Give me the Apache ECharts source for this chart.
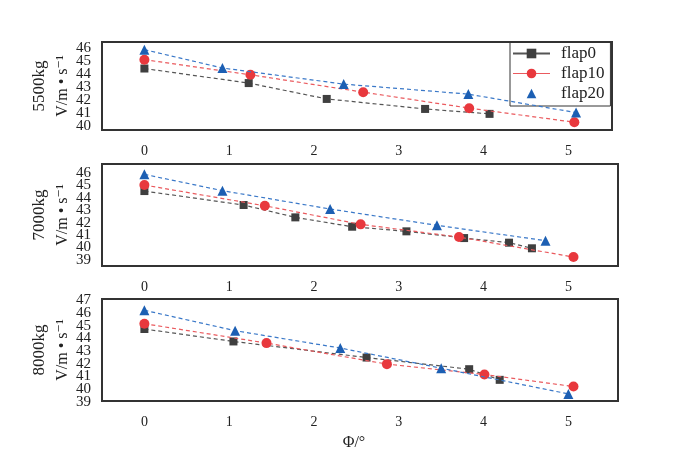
<!DOCTYPE html>
<html lang="en">
<head>
    <meta charset="UTF-8">
    <title>V - Phi</title>
    <script src="https://cdn.jsdelivr.net/npm/echarts@6.0.0/dist/echarts.min.js"></script>
</head>
<body style="margin:0;background:#fff">
<div id="container" style="width:685px;height:474px"></div>

<script type="text/javascript">
    // tick labels
    var xTicks = [0, 1, 2, 3, 4, 5];
    var yTicks1 = [40, 41, 42, 43, 44, 45, 46];
    var yTicks2 = [39, 40, 41, 42, 43, 44, 45, 46];
    var yTicks3 = [39, 40, 41, 42, 43, 44, 45, 46, 47];
    var panelNames = ['5500kg', '7000kg', '8000kg'];
    var seriesNames = ['flap0', 'flap10', 'flap20'];

    // 5500kg
    var p1Flap0 = [[0, 44.42], [1.23, 43.30], [2.15, 42.08], [3.31, 41.31], [4.07, 40.93]];
    var p1Flap10 = [[0, 45.10], [1.25, 43.94], [2.58, 42.60], [3.83, 41.37], [5.07, 40.29]];
    var p1Flap20 = [[0, 45.87], [0.92, 44.46], [2.35, 43.22], [3.82, 42.45], [5.09, 41.03]];
    // 7000kg
    var p2Flap0 = [[0, 44.53], [1.17, 43.41], [1.78, 42.42], [2.45, 41.67], [3.09, 41.30], [3.77, 40.76], [4.30, 40.39], [4.57, 39.94]];
    var p2Flap10 = [[0, 45.01], [1.42, 43.35], [2.55, 41.86], [3.71, 40.84], [5.06, 39.24]];
    var p2Flap20 = [[0, 45.87], [0.92, 44.56], [2.19, 43.09], [3.45, 41.78], [4.73, 40.55]];
    // 8000kg
    var p3Flap0 = [[0, 44.73], [1.05, 43.75], [2.62, 42.48], [3.83, 41.56], [4.19, 40.72]];
    var p3Flap10 = [[0, 45.15], [1.44, 43.62], [2.86, 41.96], [4.01, 41.14], [5.06, 40.19]];
    var p3Flap20 = [[0, 46.21], [1.07, 44.60], [2.31, 43.23], [3.50, 41.64], [5.00, 39.61]];

    var panels = [
        {data: [p1Flap0, p1Flap10, p1Flap20], yTicks: yTicks1, ymin: 39.69, ymax: 46.46, xmax: 5.514,
            grid: {left: 102, top: 42, width: 510, height: 88}},
        {data: [p2Flap0, p2Flap10, p2Flap20], yTicks: yTicks2, ymin: 38.52, ymax: 46.7, xmax: 5.585,
            grid: {left: 102, top: 164, width: 516, height: 102}},
        {data: [p3Flap0, p3Flap10, p3Flap20], yTicks: yTicks3, ymin: 39.05, ymax: 47.1, xmax: 5.585,
            grid: {left: 102, top: 299, width: 516, height: 102}}
    ];

    var colors = ['#3f3f3f', '#e8383d', '#1c5fb3'];
    var lineColors = ['#555555', '#ea5a5e', '#3a78c8'];
    var symbols = ['rect', 'circle', 'triangle'];
    var symbolSizes = [8, 10, 10];
    var fontFam = '"Liberation Serif", "DejaVu Serif", serif';

    var dom = document.getElementById('container');
    var myChart = echarts.init(dom, null, {renderer: 'canvas'});

    var grids = [], xAxes = [], yAxes = [], series = [], graphics = [];
    panels.forEach(function (p, i) {
        grids.push(Object.assign({show: true, borderColor: '#333', borderWidth: 2, backgroundColor: 'transparent'}, p.grid));
        xAxes.push({
            type: 'value', gridIndex: i, min: -0.5, max: p.xmax,
            axisLine: {show: false}, axisTick: {show: false}, splitLine: {show: false},
            axisLabel: {customValues: xTicks, margin: 14, color: '#222', fontFamily: fontFam, fontSize: 14}
        });
        // y labels are drawn below as text, since they overlap and echarts hides them
        yAxes.push({
            type: 'value', gridIndex: i, min: p.ymin, max: p.ymax,
            axisLine: {show: false}, axisTick: {show: false}, splitLine: {show: false},
            axisLabel: {show: false}
        });
        p.data.forEach(function (d, k) {
            series.push({
                name: seriesNames[k], type: 'line', xAxisIndex: i, yAxisIndex: i,
                data: d, symbol: symbols[k], symbolSize: symbolSizes[k],
                itemStyle: {color: colors[k]},
                lineStyle: {color: lineColors[k], width: 1.2, type: [4, 3]},
                z: 3 + k
            });
        });
        var cy = p.grid.top + p.grid.height / 2;
        graphics.push({
            type: 'text', x: 40, y: cy, rotation: Math.PI / 2,
            style: {text: panelNames[i], fill: '#222', font: '17px ' + fontFam, align: 'center', verticalAlign: 'middle'}
        });
        graphics.push({
            type: 'text', x: 63, y: cy, rotation: Math.PI / 2,
            style: {text: 'V/m • s⁻¹', fill: '#222', font: '16px ' + fontFam, align: 'center', verticalAlign: 'middle'}
        });
    });
    graphics.push({
        type: 'text', x: 354, y: 443,
        style: {text: 'Φ/°', fill: '#222', font: '16px ' + fontFam, align: 'center', verticalAlign: 'middle'}
    });

    var option = {
        backgroundColor: '#fff',
        animation: false,
        grid: grids,
        xAxis: xAxes,
        yAxis: yAxes,
        series: series,
        graphic: graphics,
        legend: {
            orient: 'vertical', left: 510, top: 42,
            padding: [3, 6, 4, 2], itemGap: 3, itemWidth: 37, itemHeight: 12,
            borderColor: '#333', borderWidth: 1,
            textStyle: {fontFamily: fontFam, fontSize: 17, color: '#222', padding: [0, 0, 0, 6]},
            data: [
                {name: 'flap0', lineStyle: {type: 'solid', width: 2, color: '#555'}},
                {name: 'flap10', lineStyle: {type: 'solid', width: 1, color: '#ea5a5e'}},
                {name: 'flap20', lineStyle: {opacity: 0}}
            ]
        }
    };

    myChart.setOption(option);

    // y tick labels, placed with the axis scale
    panels.forEach(function (p, i) {
        p.yTicks.forEach(function (v) {
            var y = myChart.convertToPixel({yAxisIndex: i}, v);
            graphics.push({
                type: 'text', x: p.grid.left - 11, y: y,
                style: {text: String(v), fill: '#222', font: '15px ' + fontFam, align: 'right', verticalAlign: 'middle'}
            });
        });
    });
    myChart.setOption({graphic: graphics});

    window.addEventListener('resize', myChart.resize);
</script>
</body>
</html>
